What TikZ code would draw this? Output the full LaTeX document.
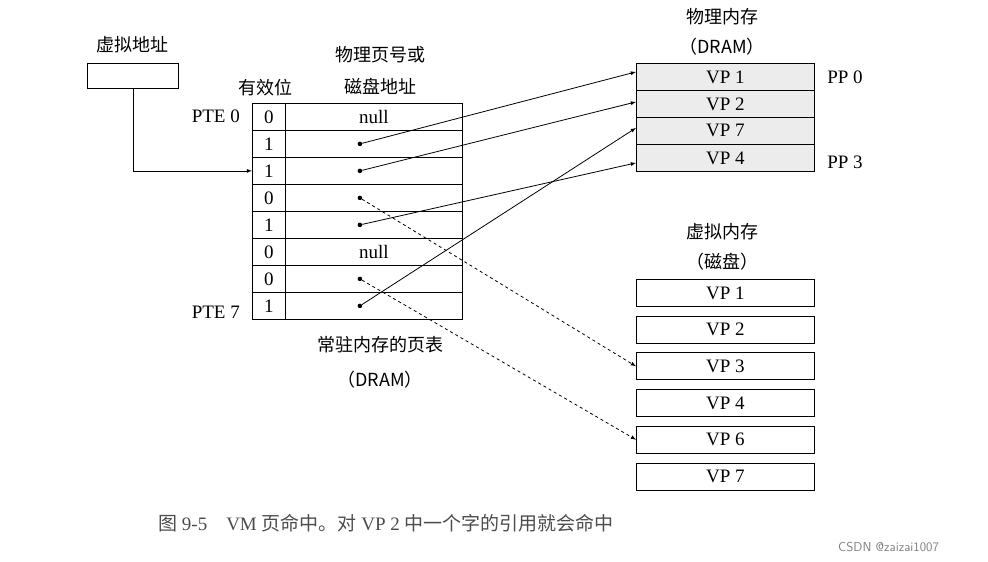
\documentclass[tikz,border=0pt]{standalone}
\usepackage{fontspec}
\setmainfont{Liberation Serif}
\newfontfamily\cjk{Noto Sans CJK SC}
\begin{document}
\begin{tikzpicture}[x=1pt,y=-1pt,
  txt/.style={font=\fontsize{18}{20}\selectfont\cjk,inner sep=0pt},
  lt/.style={font=\fontsize{19}{21}\selectfont,inner sep=0pt},
  cell/.style={draw,line width=0.8pt,inner sep=0pt,anchor=north west,font=\fontsize{19}{21}\selectfont},
  arr/.style={-latex,line width=0.8pt},
  dot/.style={circle,fill,inner sep=1.6pt}]
\useasboundingbox (0,0) rectangle (988,562);
% virtual address
\node[txt] at (132,45) {虚拟地址};
\node[cell,minimum width=91pt,minimum height=25pt] (va) at (87,63) {};
% page table
\node[txt] at (265,88) {有效位};
\node[txt] at (380,55) {物理页号或};
\node[txt] at (380,86) {磁盘地址};
\foreach \i/\v/\t in {0/0/null,1/1/,2/1/,3/0/,4/1/,5/0/null,6/0/,7/1/}{
  \node[cell,minimum width=33pt,minimum height=27pt] (v\i) at (252,103+27*\i) {\v};
  \node[cell,minimum width=177pt,minimum height=27pt] (p\i) at (285,103+27*\i) {\t};
}
\foreach \i in {1,2,3,4,6,7}{\node[dot] (d\i) at ([xshift=-14pt]p\i.center) {};}
\node[lt,anchor=east] at (240,116) {PTE 0};
\node[lt,anchor=east] at (240,312) {PTE 7};
\node[txt] at (380,345) {常驻内存的页表};
\node[txt] at (380,380) {（DRAM）};
% physical memory
\node[txt] at (722,17) {物理内存};
\node[txt] at (722,47) {（DRAM）};
\foreach \i/\t in {0/VP 1,1/VP 2,2/VP 7,3/VP 4}{
  \node[cell,fill=gray!15,minimum width=178pt,minimum height=27pt] (m\i) at (636,63+27*\i) {\t};
}
\node[lt] at (845,77) {PP 0};
\node[lt] at (845,162) {PP 3};
% disk
\node[txt] at (722,232) {虚拟内存};
\node[txt] at (722,262) {（磁盘）};
\foreach \i/\t in {0/VP 1,1/VP 2,2/VP 3,3/VP 4,4/VP 6,5/VP 7}{
  \node[cell,minimum width=178pt,minimum height=27pt] (k\i) at (636,279+36.7*\i) {\t};
}
% connectors
\draw[arr] (va.south) |- (v2.west);
\draw[arr] (d1) -- ([yshift=5pt]m0.west);
\draw[arr] (d2) -- ([yshift=2pt]m1.west);
\draw[arr] (d4) -- ([yshift=-5pt]m3.west);
\draw[arr] (d7) -- ([yshift=3pt]m2.west);
\draw[arr,dashed] (d3) -- (k2.west);
\draw[arr,dashed] (d6) -- (k4.west);
% caption
\node[font=\fontsize{19}{21}\selectfont,anchor=west,inner sep=0pt,gray!60!black] at (158,523) {{\cjk 图} 9-5\quad VM {\cjk 页命中。对} VP 2 {\cjk 中一个字的引用就会命中}};
\node[font=\fontsize{13}{15}\selectfont\sffamily,anchor=west,inner sep=0pt,gray] at (838,547) {CSDN @zaizai1007};
\end{tikzpicture}
\end{document}
